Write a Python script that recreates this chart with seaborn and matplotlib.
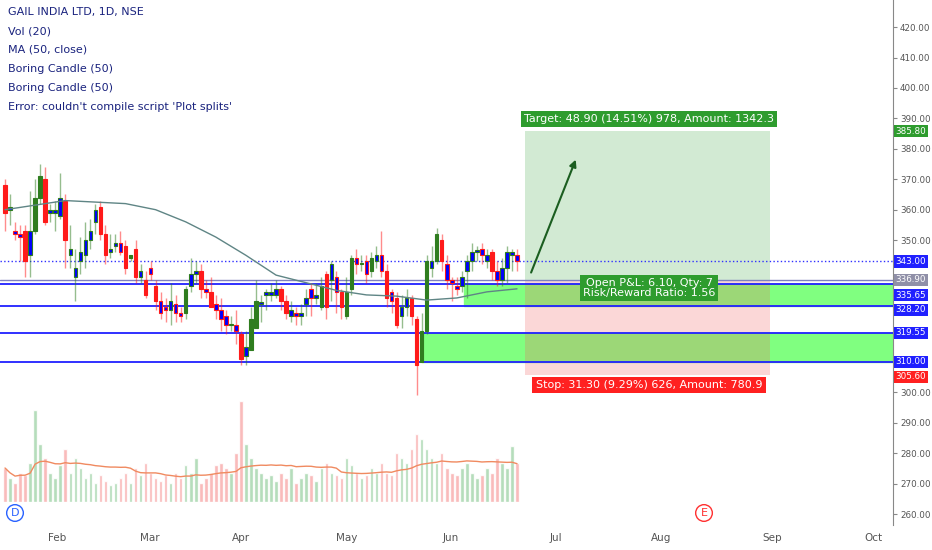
import numpy as np
import pandas as pd
import matplotlib
matplotlib.use("Agg")
import matplotlib.pyplot as plt
import seaborn as sns

# OHLC (daily bars, mid Jan -> Jun 20)
opens = [368,360,353,352,353,345,353,364,370,359, 359,358,363,345,338,343,345,350,356,361,
         352,346,348,349,348,344,347,338,337,341, 335,330,328,327,329,326,326,335,339,340,
         334,333,329,327,325,322,322,319,312,314, 321,329,332,332,332,334,330,325,326,325,
         329,334,331,328,339,337,338,333,325,334, 344,342,343,340,343,345,340,333,331,325,
         328,331,324,310,320,341,343,350,342,337, 335,335,340,343,346,347,343,346,340,337,
         341,345,345]
closes = [359,361,352,351,343,353,364,371,356,360, 360,364,350,347,341,346,350,353,360,352,
          345,347,349,346,341,345,338,340,332,339, 330,326,327,330,326,325,334,339,340,334,
          333,328,327,324,322,322,320,311,315,324, 330,329,333,333,334,330,326,327,325,326,
          331,331,332,335,328,342,333,328,333,344, 342,342,339,344,345,340,331,330,322,328,
          331,325,309,320,343,343,352,343,337,336, 334,338,343,346,346,345,345,340,337,341,
          346,346,343]
highs = [370,365,356,355,355,366,370,375,374,362, 363,372,365,355,347,351,356,357,362,363,
         355,352,352,353,350,345,350,342,340,343, 337,333,331,336,332,328,335,344,343,342,
         337,338,332,331,327,325,327,320,320,328, 337,332,334,336,337,335,332,330,328,329,
         334,336,336,338,340,343,340,334,338,345, 347,345,345,346,348,353,342,334,333,332,
         334,332,325,326,345,348,354,352,345,338, 338,340,345,349,348,349,347,347,343,344,
         348,347,347]
lows = [353,355,350,343,338,338,352,362,355,356, 353,357,341,341,330,339,341,347,352,350,
        342,344,346,345,339,343,336,336,331,337, 327,324,323,322,323,323,324,333,336,331,
        331,328,324,320,319,320,316,309,309,316, 322,323,327,330,331,327,324,323,322,322,
        325,325,329,327,324,330,326,324,324,332, 339,340,336,338,341,338,328,326,321,321,
        325,322,299,310,319,338,342,340,334,330, 332,333,331,340,343,342,341,337,335,335,
        336,340,340]
volumes = [35,25,20,30,28,40,95,60,45,30, 25,38,55,30,45,35,25,30,20,28,
           22,18,20,25,30,20,35,28,40,30, 25,22,28,20,30,25,38,30,45,20,
           25,30,38,40,35,30,50,104,60,45, 35,30,25,28,22,30,25,35,20,25,
           30,28,22,35,40,30,28,25,45,38, 30,25,28,35,30,40,30,28,50,45,
           40,55,70,65,55,45,40,50,35,30, 28,35,40,30,25,28,35,30,45,40,
           35,58,40]

# MA(50, close) read at every 6th bar
ma_bar = [0,6,12,18,24,30,36,42,48,54,60,66,72,78,84,90,96,102]
ma_val = [360,361.5,363,362.5,362,360,356,351,345,338.5,336,333.5,332,331.6,330.3,331,333,334]

month_labels = ["Feb","Mar","Apr","May","Jun","Jul","Aug","Sep","Oct"]
month_pos = [10.4,28.9,47.0,68.1,88.8,109.8,130.7,152.8,173.1]

price_ticks = [260,270,280,290,300,350,360,370,380,390,400,410,420]
level_lines = [335.65, 328.2, 319.55, 310.0]
last_price = 343.0
entry, target, stop = 336.9, 385.8, 305.6

# right-axis price tags: value, colour
tag_vals = [385.8, 343.0, 336.9, 335.65, 328.2, 319.55, 310.0, 305.6]
tag_cols = ["#2e9c2e", "#2020ff", "#9090a8", "#2020ff", "#2020ff", "#2020ff", "#2020ff", "#ff2020"]

n = min(len(opens), len(closes), len(highs), len(lows), len(volumes))
df = pd.DataFrame({"o": opens[:n], "c": closes[:n], "h": highs[:n], "l": lows[:n], "v": volumes[:n]})
df["x"] = np.arange(n)
df["vma"] = df["v"].rolling(20, min_periods=1).mean()

sns.set_style("white")
plt.rcParams["font.family"] = ["DejaVu Sans"]

fig = plt.figure(figsize=(9.32, 5.5), dpi=100)
W, H = 932, 550
ax = fig.add_axes([0, 25 / H, 893 / W, 525 / H])
vax = fig.add_axes([0, 48 / H, 893 / W, 102 / H], sharex=ax)
vax.patch.set_alpha(0)
ax.set_zorder(vax.get_zorder() - 1)

GREEN = "#2f7d1f"
RED = "#ff1a1a"

# volume
vcol = np.where(df["c"] >= df["o"], "#a8d8b0", "#f8b0b0")
vax.bar(df["x"], df["v"], width=0.7, color=vcol, alpha=0.85)
sns.lineplot(data=df, x="x", y="vma", ax=vax, color="#f08a60", lw=1)
vax.set_ylim(0, 105)
vax.axis("off")

# zones
xr = 176.9
ax.fill_between([83, xr], 310.0, 319.55, color="#80ff80", zorder=1)
ax.fill_between([91.5, xr], 328.2, 335.65, color="#80ff80", zorder=1)
ax.fill_between([103.6, 152.4], entry, target, color="#4caf50", alpha=0.25, lw=0, zorder=2)
ax.fill_between([103.6, 152.4], stop, entry, color="#f06060", alpha=0.25, lw=0, zorder=2)

for lv in level_lines:
    ax.axhline(lv, color="#2020ff", lw=1.3, zorder=3)
ax.axhline(entry, color="#8080c0", lw=1, zorder=3)
ax.axhline(last_price, color="#3030ff", lw=1, ls=":", zorder=3)

# candles
for _, r in df.iterrows():
    up = r["c"] >= r["o"]
    col = GREEN if up else RED
    ax.vlines(r["x"], r["l"], r["h"], color=col, alpha=0.5, lw=1, zorder=4)
    lo, hi = min(r["o"], r["c"]), max(r["o"], r["c"])
    boring = (hi - lo) < 0.5 * (r["h"] - r["l"])
    ax.bar(r["x"], max(hi - lo, 0.6), bottom=lo, width=0.7,
           color="#0000ff" if boring else col, edgecolor=col, lw=0.8, zorder=5)

sns.lineplot(x=ma_bar, y=ma_val, ax=ax, color="#5f8585", lw=1, zorder=6)

ax.annotate("", xy=(113.9, 377.3), xytext=(104.6, 338.5),
            arrowprops=dict(arrowstyle="-|>", color="#1b5e20", lw=1.5), zorder=7)

ax.text(128.3, 389.8, "Target: 48.90 (14.51%) 978, Amount: 1342.3", color="white", fontsize=8,
        ha="center", va="center", bbox=dict(boxstyle="square,pad=0.3", fc="#2e9c2e", ec="none"), zorder=8)
ax.text(128.3, 334.3, "Open P&L: 6.10, Qty: 7\nRisk/Reward Ratio: 1.56", color="white", fontsize=8,
        ha="center", va="center", linespacing=1.0,
        bbox=dict(boxstyle="square,pad=0.25", fc="#2e9c2e", ec="none"), zorder=8)
ax.text(128.3, 302.4, "Stop: 31.30 (9.29%) 626, Amount: 780.9", color="white", fontsize=8,
        ha="center", va="center", bbox=dict(boxstyle="square,pad=0.3", fc="#ff2020", ec="none"), zorder=8)

ax.set_xlim(-1.0, xr)
ax.set_ylim(256.4, 428.9)
ax.yaxis.tick_right()
ax.set_yticks(price_ticks)
ax.set_yticklabels([f"{t:.2f}" for t in price_ticks], fontsize=6.3, color="#555555")
ax.tick_params(axis="y", length=3, color="#888888", pad=2)
ax.set_xticks(month_pos)
ax.set_xticklabels(month_labels, fontsize=7.5, color="#555555")
ax.tick_params(axis="x", length=0, pad=6)
for s in ["top", "left", "bottom"]:
    ax.spines[s].set_visible(False)
ax.spines["right"].set_color("#888888")

# price tags, stacked downward so they do not collide (as TradingView does)
min_gap = 15  # pixels
prev_y = None
for p, c in zip(tag_vals, tag_cols):
    y = ax.transData.transform((0, p))[1]
    if prev_y is not None and prev_y - y < min_gap:
        y = prev_y - min_gap
    prev_y = y
    ax.text(1.003, y, f"{p:.2f}", transform=matplotlib.transforms.blended_transform_factory(
                ax.transAxes, matplotlib.transforms.IdentityTransform()),
            fontsize=6.3, color="white", va="center", ha="left", clip_on=False,
            bbox=dict(boxstyle="square,pad=0.2", fc=c, ec="none"), zorder=9)

legend_lines = ["GAIL INDIA LTD, 1D, NSE", "Vol (20)", "MA (50, close)", "Boring Candle (50)",
                "Boring Candle (50)", "Error: couldn't compile script 'Plot splits'"]
for i, t in enumerate(legend_lines):
    fig.text(8 / W, 1 - (12 + 19 * i) / H, t, fontsize=8, color="#1a237e", va="center")

fig.text(15 / W, 1 - 513 / H, "D", fontsize=8, color="#2962ff", ha="center", va="center",
         bbox=dict(boxstyle="circle,pad=0.3", fc="white", ec="#2962ff"))
fig.text(704 / W, 1 - 513 / H, "E", fontsize=8, color="#ff3030", ha="center", va="center",
         bbox=dict(boxstyle="circle,pad=0.3", fc="white", ec="#ff3030"))

fig.savefig("out.png", dpi=100)
